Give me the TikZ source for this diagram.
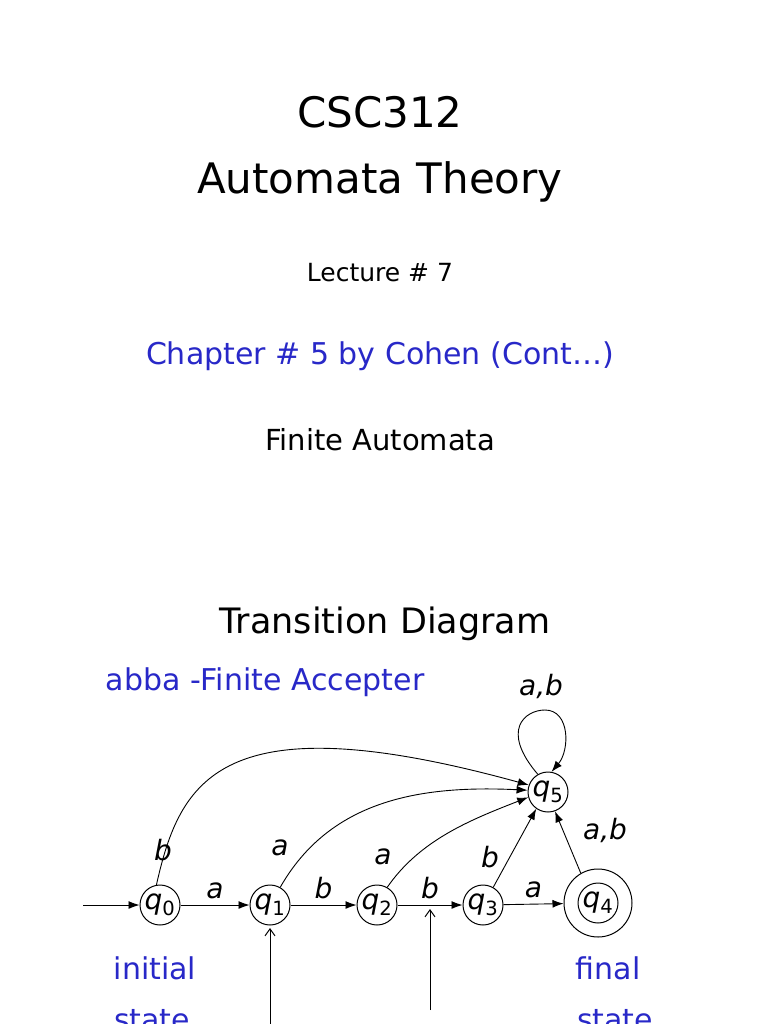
\documentclass[tikz,border=0pt]{standalone}
\usepackage{fontspec}
\setmainfont{DejaVu Sans}
\usetikzlibrary{arrows.meta}
\definecolor{blu}{RGB}{40,40,200}
\newcommand{\qs}[1]{q\textsubscript{\upshape #1}}
\begin{document}
\begin{tikzpicture}[x=1pt,y=-1pt,
  st/.style={circle,draw,line width=1pt,minimum size=40pt,inner sep=0pt,font=\fontsize{28}{28}\selectfont\itshape},
  lab/.style={font=\fontsize{28}{28}\selectfont\itshape},
  tr/.style={-{Latex[length=11pt,width=8pt]},line width=0.9pt},
  ptr/.style={-{Straight Barb[length=7pt,width=10pt]},line width=1pt},
  blt/.style={text=blu,font=\fontsize{30}{30}\selectfont}]
\useasboundingbox[fill=white] (0,0) rectangle (768,1024);
\node (t1) at (380,112) {\fontsize{42}{42}\selectfont CSC312};
\node (t2) at (380,182) {\fontsize{42}{42}\selectfont Automata Theory};
\node (t3) at (380,273) {\fontsize{25}{25}\selectfont Lecture \# 7};
\node[text=blu] (t4) at (380,356) {\fontsize{30}{30}\selectfont Chapter \# 5 by Cohen (Cont…)};
\node (t5) at (380,440) {\fontsize{29}{29}\selectfont Finite Automata};
\node (t6) at (385,624) {\fontsize{35}{35}\selectfont Transition Diagram};
\node[blt] (t7) at (265,682) {abba -Finite Accepter};
\node[st] (q0) at (160,905) {\qs{0}};
\node[st] (q1) at (270,905) {\qs{1}};
\node[st] (q2) at (377,905) {\qs{2}};
\node[st] (q3) at (483,905) {\qs{3}};
\node[st] (q4) at (598,903) {\qs{4}};
\node[circle,draw,line width=1pt,minimum size=68pt] (q4o) at (598,903) {};
\node[st] (q5) at (548,792) {\qs{5}};
\coordinate (in) at (83,905);
\draw[tr] (in) -- (q0);
\draw[tr] (q0) -- node[lab,above=2pt]{a} (q1);
\draw[tr] (q1) -- node[lab,above=2pt]{b} (q2);
\draw[tr] (q2) -- node[lab,above=2pt]{b} (q3);
\draw[tr] (q3) -- node[lab,above=2pt]{a} (q4o);
\draw[tr] (q0.100) .. controls (180,780) and (220,700) .. (q5.160);
\draw[tr] (q1.60) .. controls (330,800) and (420,785) .. (q5.175);
\draw[tr] (q2.60) .. controls (420,840) and (470,820) .. (q5.195);
\draw[tr] (q3.60) -- (q5.235);
\draw[tr] (q4o.120) -- (q5.290);
\draw[tr] (q5.120) .. controls (500,730) and (525,710) .. (545,710) .. controls (570,710) and (570,750) .. (q5.80);
\node[lab] (l1) at (541,686) {a,b};
\node[lab] (l2) at (163,850) {b};
\node[lab] (l3) at (280,848) {a};
\node[lab] (l4) at (383,857) {a};
\node[lab] (l5) at (490,857) {b};
\node[lab] (l6) at (605,830) {a,b};
\coordinate (p1s) at (270,1030);
\coordinate (p1e) at (270,928);
\coordinate (p2s) at (430,1010);
\coordinate (p2e) at (430,909);
\draw[ptr] (p1s) -- (p1e);
\draw[ptr] (p2s) -- (p2e);
\node[blt] (i1) at (155,968) {initial};
\node[blt] (i2) at (152,1020) {state};
\node[blt] (f1) at (608,968) {final};
\node[blt] (f2) at (615,1020) {state};
\end{tikzpicture}
\end{document}
